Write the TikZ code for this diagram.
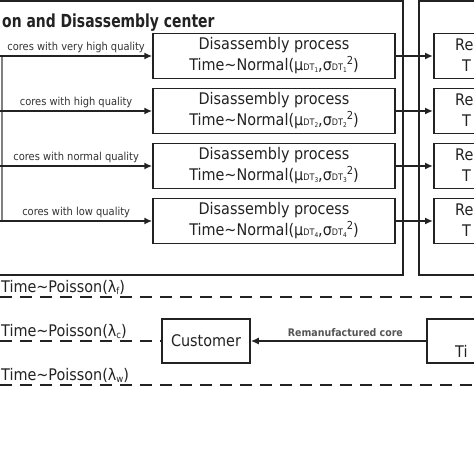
\documentclass[tikz,border=0pt]{standalone}
\usepackage{fontspec}
\setmainfont{DejaVu Sans Condensed}
\usetikzlibrary{arrows.meta}
\definecolor{ink}{HTML}{222222}
\definecolor{lbl}{HTML}{333333}
\definecolor{rcl}{HTML}{555555}
\definecolor{vline}{HTML}{808080}
\newcommand\subDT[1]{{\fontsize{9}{9}\selectfont DT\raisebox{-0.35ex}{\fontsize{6.5}{6.5}\selectfont #1}}}
\newcommand\supTwo{\raisebox{0.7ex}{\fontsize{11}{11}\selectfont 2}}
\newcommand\lsub[1]{\raisebox{-0.3ex}{\fontsize{9.5}{9.5}\selectfont #1}}
\newcommand\normtxt[1]{Disassembly process\\Time\textasciitilde Normal(μ\subDT{#1},σ\subDT{#1}\supTwo)}
\tikzset{
  procbox/.style={draw=ink, line width=1.5pt, minimum width=242pt, minimum height=45pt, inner sep=0pt, align=center, font=\fontsize{16}{21}\selectfont, text=ink},
  rembox/.style={draw=ink, line width=1.5pt, minimum width=80pt, minimum height=45pt, inner sep=0pt, anchor=west},
  frame/.style={draw=ink, line width=1.5pt},
  flow/.style={draw=ink, line width=1.6pt, -{Latex[length=8pt,width=7pt]}},
  qlabel/.style={font=\fontsize{11}{13}\selectfont, text=lbl, above, inner sep=2pt},
  dashline/.style={draw=ink, line width=1.5pt, dash pattern=on 12pt off 8pt},
  ptxt/.style={font=\fontsize{16}{18}\selectfont, text=ink, anchor=base west, inner sep=0pt}
}
\begin{document}
\begin{tikzpicture}[x=1pt,y=-1pt]
\useasboundingbox (0,0) rectangle (474,474);
\clip (0,0) rectangle (474,474);
\fill[white] (0,0) rectangle (474,474);
% frames
\draw[frame] (-10,1) rectangle (403,275);
\draw[frame] (419,1) rectangle (500,275);
\node[font=\fontsize{18}{22}\selectfont\bfseries, text=ink, anchor=base west, inner sep=0pt] (title) at (2,27) {\scalebox{0.86}[1]{on and Disassembly center}};
% gray vertical line
\coordinate (vt) at (2,56);
\coordinate (vb) at (2,221);
\draw[vline, line width=2.5pt] (vt) -- (vb);
% disassembly boxes
\node[procbox] (d1) at (274,56) {\normtxt{1}};
\node[procbox] (d2) at (274,111) {\normtxt{2}};
\node[procbox] (d3) at (274,166) {\normtxt{3}};
\node[procbox] (d4) at (274,221) {\normtxt{4}};
% start coordinates
\coordinate (s1) at (0,56);
\coordinate (s2) at (0,111);
\coordinate (s3) at (0,166);
\coordinate (s4) at (0,221);
\draw[flow] (s1) -- (d1.west |- s1) node[qlabel, midway] {cores with very high quality};
\draw[flow] (s2) -- (d2.west |- s2) node[qlabel, midway] {cores with high quality};
\draw[flow] (s3) -- (d3.west |- s3) node[qlabel, midway] {cores with normal quality};
\draw[flow] (s4) -- (d4.west |- s4) node[qlabel, midway] {cores with low quality};
% remanufacturing boxes (partly visible)
\node[rembox] (r1) at (433,56) {};
\node[rembox] (r2) at (433,111) {};
\node[rembox] (r3) at (433,166) {};
\node[rembox] (r4) at (433,221) {};
\foreach \i/\y in {1/56,2/111,3/166,4/221}{
  \node[ptxt] (rt\i a) at (455,\y-5.5) {Re};
  \node[ptxt] (rt\i b) at (462,\y+15.5) {T};
}
\draw[flow] (d1.east) -- (r1.west);
\draw[flow] (d2.east) -- (r2.west);
\draw[flow] (d3.east) -- (r3.west);
\draw[flow] (d4.east) -- (r4.west);
% Poisson lines
\node[ptxt] (pf) at (1,292) {Time\textasciitilde Poisson(λ\lsub{f})};
\coordinate (f0) at (0,297);
\coordinate (f1) at (474,297);
\draw[dashline] (f0) -- (f1);
\node[draw=ink, line width=1.5pt, minimum width=88pt, minimum height=44pt, inner sep=0pt, font=\fontsize{16}{18}\selectfont, text=ink] (cust) at (206,341) {Customer};
\node[ptxt] (pc) at (1,336) {Time\textasciitilde Poisson(λ\lsub{c})};
\coordinate (c0) at (0,341);
\draw[dashline] (c0) -- (cust.west);
\node[ptxt] (pw) at (1,380) {Time\textasciitilde Poisson(λ\lsub{w})};
\coordinate (w0) at (0,385);
\coordinate (w1) at (474,385);
\draw[dashline] (w0) -- (w1);
% remanufacturer box
\node[draw=ink, line width=1.5pt, minimum width=80pt, minimum height=44pt, inner sep=0pt, anchor=west] (rem) at (426,341) {};
\node[ptxt] (remt) at (455,357) {Ti};
\draw[flow] (rem.west) -- (cust.east) node[midway, above=4pt, xshift=7pt, font=\fontsize{10.5}{12}\selectfont\bfseries, text=rcl, inner sep=0pt] {Remanufactured core};
\end{tikzpicture}
\end{document}
